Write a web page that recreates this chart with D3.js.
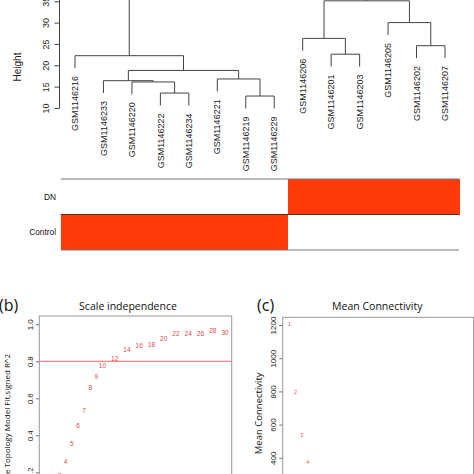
<!DOCTYPE html>
<html><head><meta charset="utf-8">
<script src="https://cdn.jsdelivr.net/npm/d3@7"></script>
<style>
html,body{margin:0;padding:0;background:#fff;}
svg{display:block;}
text{font-family:"Liberation Sans",Arial,sans-serif;}
.os{font-family:"Open Sans","Noto Sans",sans-serif;}
</style></head>
<body>
<svg id="c" width="474" height="474"></svg>
<script>
// ---------- data ----------
const leaves = ["GSM1146216","GSM1146233","GSM1146220","GSM1146222","GSM1146234","GSM1146221","GSM1146219","GSM1146229","GSM1146206","GSM1146201","GSM1146203","GSM1146205","GSM1146202","GSM1146207"];
// hclust-style merges: negative = leaf (1-based), positive = earlier merge step
const mergeLeft   = [-7, -4, -3, -2, -6, 4, -1, -10, -13, -9, -12, 10, 7];
const mergeRight  = [-8, -5,  2,  3,  1, 5,  6, -11, -14,  8,   9, 11, 12];
const mergeHeight = [12.8, 13.5, 16.1, 16.4, 16.8, 18.8, 22.25, 22.6, 24.6, 26.3, 30.0, 35.1, 45];
const heightTicks = [10, 15, 20, 25, 30, 35];
const traitNames = ["DN", "Control"];
const traitDN      = [0,0,0,0,0,0,0,0,1,1,1,1,1,1];
const traitControl = [1,1,1,1,1,1,1,1,0,0,0,0,0,0];

const sftPowers = [3, 4, 5, 6, 7, 8, 9, 10, 12, 14, 16, 18, 20, 22, 24, 26, 28, 30];
const sftR2     = [0.18, 0.257, 0.357, 0.454, 0.533, 0.656, 0.719, 0.778, 0.814, 0.865, 0.883, 0.892, 0.92, 0.948, 0.948, 0.948, 0.964, 0.955];
const r2Ticks = [0.2, 0.4, 0.6, 0.8, 1.0];
const r2Cut = 0.8;

const connPowers = [1, 2, 3, 4];
const meanConn   = [1205, 800, 537, 376];
const connTicks = [400, 600, 800, 1000, 1200];

// ---------- drawing ----------
const svg = d3.select("#c");
const lineCol = "#444";
const red = "#ff3b0c";
const ptCol = "#e04a4a";

// Dendrogram
const xLeaf = d3.scalePoint().domain(leaves).range([75, 445]);
const yH = d3.scaleLinear().domain([10, 35]).range([108, 1.25]);
const hang = 2.9;
const nodeX = [], nodeH = [];
function childX(c){ return c < 0 ? xLeaf(leaves[-c-1]) : nodeX[c-1]; }
const dg = svg.append("g");
const leafEnd = {};
mergeLeft.forEach((l, i) => {
  const r = mergeRight[i], h = mergeHeight[i];
  const xl = childX(l), xr = childX(r);
  nodeX[i] = (xl + xr) / 2; nodeH[i] = h;
  [l, r].forEach(c => {
    const ch = c < 0 ? h - hang : nodeH[c-1];
    if (c < 0) leafEnd[leaves[-c-1]] = ch;
    dg.append("line").attr("x1", childX(c)).attr("x2", childX(c))
      .attr("y1", yH(h)).attr("y2", yH(ch)).attr("stroke", lineCol).attr("stroke-width", 1);
  });
  dg.append("line").attr("x1", xl).attr("x2", xr).attr("y1", yH(h)).attr("y2", yH(h))
    .attr("stroke", lineCol).attr("stroke-width", 1);
});
leaves.forEach(n => {
  const x = xLeaf(n), y = yH(leafEnd[n]) + 8;
  dg.append("text").attr("transform", `translate(${x},${y}) rotate(-90)`)
    .attr("text-anchor", "end").attr("dy", "0.35em").attr("font-size", 9).attr("fill", "#222").text(n);
});
const ax = svg.append("g").attr("transform", "translate(59,0)")
  .call(d3.axisLeft(yH.copy().domain([10, 40]).range([108, 108 - 30*4.27])).tickValues(heightTicks).tickSize(4.5).tickSizeOuter(0));
ax.select(".domain").attr("stroke", lineCol);
ax.selectAll(".tick line").attr("stroke", lineCol);
ax.selectAll(".tick text").attr("font-size", 9).attr("fill", "#222")
  .attr("transform", "rotate(-90)").attr("text-anchor", "middle").attr("x", 0).attr("dy", 0).attr("y", -10);
svg.append("text").attr("transform", "translate(21,67) rotate(-90)").attr("text-anchor", "middle")
  .attr("font-size", 10).attr("fill", "#222").text("Height");

// Trait colour bar
const xBand = d3.scaleBand().domain(leaves).range([60.7, 459]);
const yRow = d3.scaleBand().domain(traitNames).range([179, 250]);
const traits = {DN: traitDN, Control: traitControl};
traitNames.forEach(t => {
  svg.append("g").attr("shape-rendering", "crispEdges").selectAll("rect").data(leaves).join("rect")
    .attr("x", d => xBand(d)).attr("width", xBand.bandwidth() + 1)
    .attr("y", yRow(t)).attr("height", yRow.bandwidth())
    .attr("fill", (d, i) => traits[t][i] ? red : "#fff");
  svg.append("text").attr("x", 56).attr("y", yRow(t) + yRow.bandwidth()/2).attr("dy", "0.35em")
    .attr("text-anchor", "end").attr("font-size", 8.3).attr("fill", "#111").text(t);
});
[179, 214.5, 250].forEach((y, i) => {
  svg.append("line").attr("x1", 60.7).attr("x2", 459).attr("y1", y).attr("y2", y)
    .attr("stroke", i === 1 ? "#5a2a1a" : "#777").attr("stroke-width", 1.2);
});

// Panel (b)
const xb = d3.scaleLinear().domain([1, 30]).range([47.3, 225]);
const yb = d3.scaleLinear().domain([1, 0.2]).range([324.3, 472.3]);
const gb = svg.append("g");
gb.append("rect").attr("x", 39.3).attr("y", 316).attr("width", 192.4).attr("height", 200)
  .attr("fill", "none").attr("stroke", "#999").attr("stroke-width", 1);
const axb = gb.append("g").attr("transform", "translate(39.3,0)")
  .call(d3.axisLeft(yb).tickValues(r2Ticks).tickFormat(d3.format(".1f")).tickSize(3.5).tickSizeOuter(0));
axb.select(".domain").remove();
axb.selectAll(".tick line").attr("stroke", "#777");
axb.selectAll(".tick text").attr("font-size", 8).attr("fill", "#222")
  .attr("transform", "rotate(-90)").attr("text-anchor", "middle").attr("x", 0).attr("dy", 0).attr("y", -6.5);
gb.append("line").attr("x1", 39.3).attr("x2", 231.7).attr("y1", yb(r2Cut)).attr("y2", yb(r2Cut))
  .attr("stroke", "#f06a6a").attr("stroke-width", 1);
gb.selectAll("text.pt").data(sftPowers).join("text").attr("class", "pt")
  .attr("x", d => xb(d)).attr("y", (d, i) => yb(sftR2[i])).attr("dy", "0.35em")
  .attr("text-anchor", "middle").attr("font-size", 6.5).attr("fill", ptCol).text(d => d);
gb.append("text").attr("class", "os").attr("x", 128).attr("y", 310).attr("text-anchor", "middle")
  .attr("font-size", 10.5).attr("fill", "#111").text("Scale independence");
gb.append("text").attr("class", "os").attr("x", -1).attr("y", 311).attr("font-size", 16).attr("fill", "#111").text("(b)");
gb.append("text").attr("class", "os").attr("transform", "translate(9.5,354) rotate(-90)").attr("text-anchor", "end")
  .attr("font-size", 8).attr("fill", "#111").text("Scale Free Topology Model Fit,signed R^2");

// Panel (c)
const xc = d3.scaleLinear().domain([1, 30]).range([289.3, 467]);
const yc = d3.scaleLinear().domain([1200, 400]).range([325, 457.8]);
const gc = svg.append("g");
gc.append("rect").attr("x", 282.7).attr("y", 317.3).attr("width", 190.8).attr("height", 200)
  .attr("fill", "none").attr("stroke", "#999").attr("stroke-width", 1);
const axc = gc.append("g").attr("transform", "translate(282.7,0)")
  .call(d3.axisLeft(yc).tickValues(connTicks).tickFormat(d3.format("d")).tickSize(3.5).tickSizeOuter(0));
axc.select(".domain").remove();
axc.selectAll(".tick line").attr("stroke", "#777");
axc.selectAll(".tick text").attr("font-size", 8).attr("fill", "#222")
  .attr("transform", "rotate(-90)").attr("text-anchor", "middle").attr("x", 0).attr("dy", 0).attr("y", -6.5);
gc.selectAll("text.pt").data(connPowers).join("text").attr("class", "pt")
  .attr("x", d => xc(d)).attr("y", (d, i) => yc(meanConn[i])).attr("dy", "0.35em")
  .attr("text-anchor", "middle").attr("font-size", 6).attr("fill", "#e06a6a").text(d => d);
gc.append("text").attr("class", "os").attr("x", 377.3).attr("y", 310).attr("text-anchor", "middle")
  .attr("font-size", 10.5).attr("fill", "#111").text("Mean Connectivity");
gc.append("text").attr("class", "os").attr("x", 257).attr("y", 311).attr("font-size", 16).attr("fill", "#111").text("(c)");
gc.append("text").attr("class", "os").attr("transform", "translate(261.5,413.3) rotate(-90)").attr("text-anchor", "middle")
  .attr("font-size", 9.5).attr("fill", "#111").text("Mean Connectivity");
</script>
</body></html>
